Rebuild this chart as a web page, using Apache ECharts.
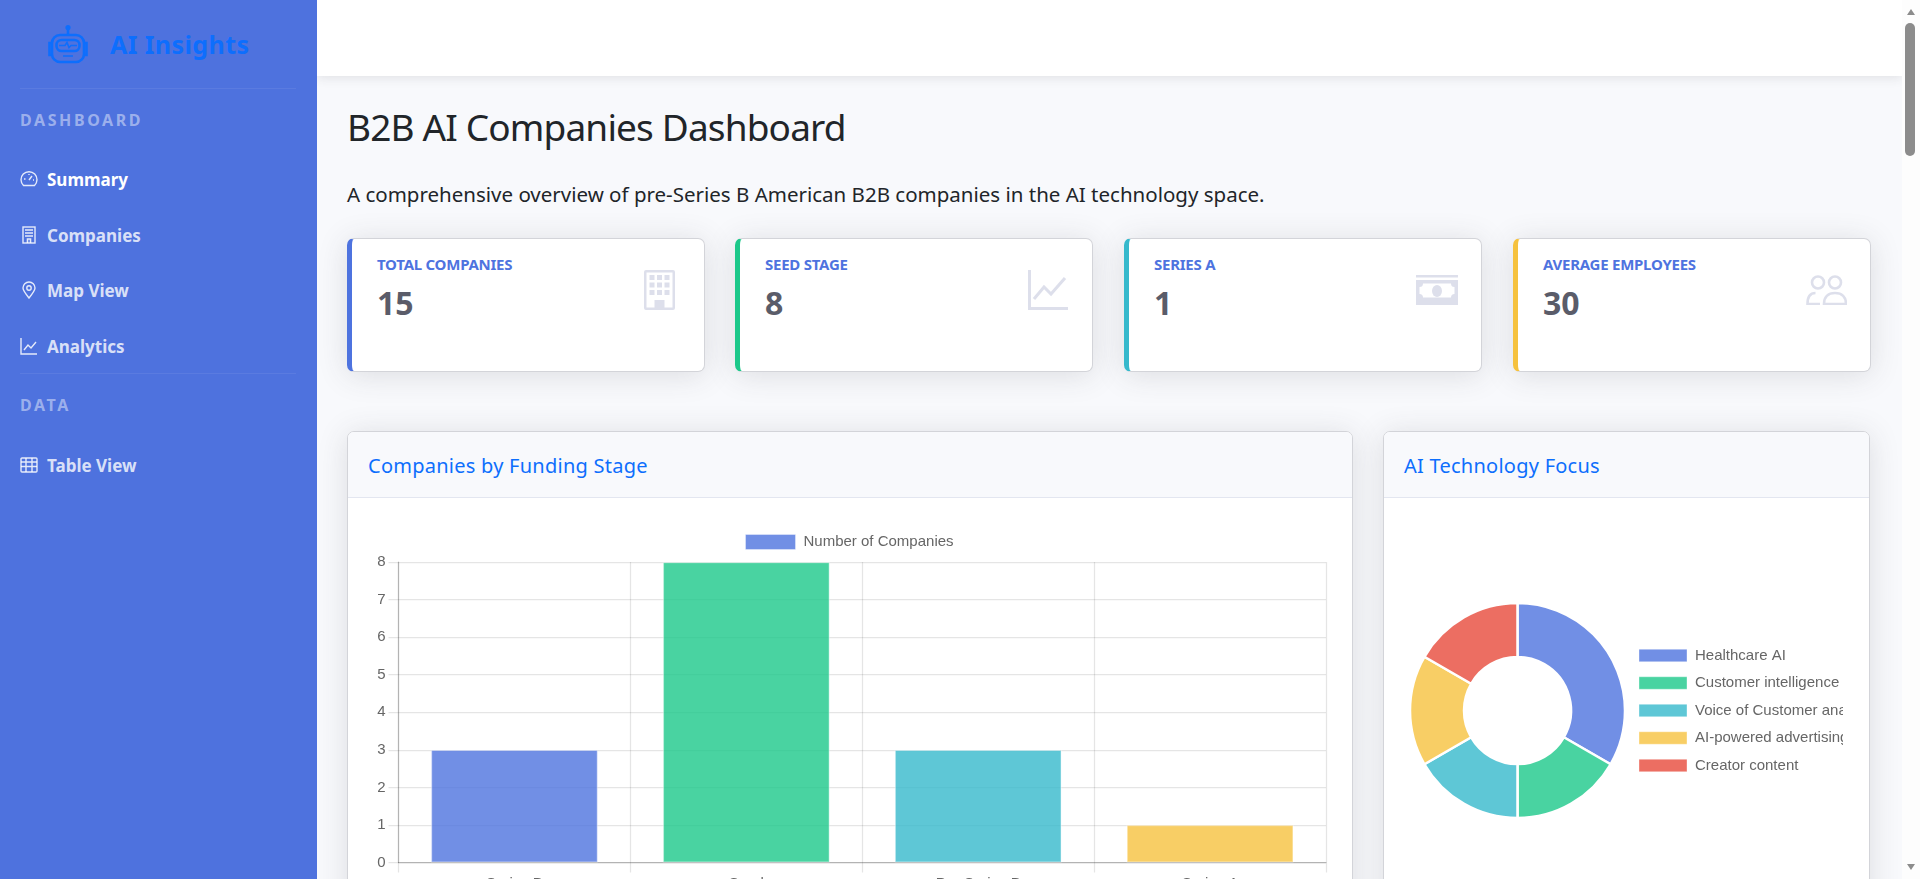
<!DOCTYPE html>
<html>
<head>
<meta charset="utf-8">
<title>B2B AI Companies Dashboard</title>
<script src="https://cdn.jsdelivr.net/npm/echarts@6/dist/echarts.min.js"></script>
<style>
  html, body { margin: 0; height: 100%; overflow: hidden; background: #f8f9fc; font-family: "Noto Sans", sans-serif; color: #212529; }
  .abs, .t { position: absolute; }
  .t { transform: translateY(-50%); white-space: nowrap; }
  #sidebar { position: absolute; left: 0; top: 0; width: 317px; height: 879px; background: #4e72de; }
  .divider { position: absolute; left: 20px; width: 276px; height: 1px; background: rgba(255,255,255,.07); }
  .section { left: 20px; font-size: 16px; font-weight: 700; letter-spacing: 2.6px; color: rgba(255,255,255,.45); }
  .nav { left: 47px; font-size: 17px; font-weight: 700; color: rgba(255,255,255,.8); }
  .nav.on { color: #fff; }
  .navicon { position: absolute; left: 20px; width: 18px; height: 18px; fill: none; stroke: rgba(255,255,255,.85); stroke-width: 1.4; }
  #topbar { position: absolute; left: 317px; top: 0; width: 1585px; height: 76px; background: #fff; box-shadow: 0 2px 10px rgba(58,59,69,.12); }
  .stat { position: absolute; top: 238px; height: 134px; width: 358px; box-sizing: border-box; background: #fff; border: 1px solid #d3d4d9; border-left-width: 5px; border-radius: 7px; box-shadow: 0 3px 30px rgba(58,59,69,.15); }
  .statlabel { font-size: 15px; font-weight: 700; letter-spacing: -.25px; color: #4e73df; }
  .statvalue { font-size: 32px; font-weight: 700; color: #5a5c69; }
  .staticon { position: absolute; fill: #dddfeb; }
  .panel { position: absolute; top: 431px; height: 600px; box-sizing: border-box; background: #fff; border: 1px solid #d3d4d9; border-radius: 7px; box-shadow: 0 3px 30px rgba(58,59,69,.15); overflow: hidden; }
  .panelhead { position: absolute; left: 0; top: 0; right: 0; height: 64.5px; background: #f8f9fc; border-bottom: 1px solid #e3e6f0; }
  .paneltitle { font-size: 20px; color: #0d6efd; letter-spacing: .25px; }
  #barChart { position: absolute; left: 368px; top: 520px; width: 970px; height: 400px; }
  #pieChart { position: absolute; left: 1404px; top: 520px; width: 439px; height: 400px; }
  #scroll { position: absolute; left: 1902px; top: 0; width: 18px; height: 879px; background: #fdfdfd; }
  #thumb { position: absolute; left: 3px; top: 23px; width: 10px; height: 133px; border-radius: 5px; background: #8c8c8c; }
</style>
</head>
<body>
<div id="topbar"></div>

<div id="sidebar">
  <svg class="abs" style="left:47px;top:24px" width="42" height="40" viewBox="0 0 42 40" fill="none" stroke="#0d6efd" stroke-width="2.6">
    <circle cx="21" cy="3.5" r="2.6" fill="#0d6efd" stroke="none"/>
    <path d="M21 5v6"/>
    <rect x="5" y="11" width="32" height="27" rx="8"/>
    <path d="M4.500 19h-2v12h2M37.500 19h2v12h-2"/>
    <rect x="9.500" y="16" width="23" height="11" rx="5"/>
    <path d="M12 21.500h6l2-3 2 5 2-2h6M16 32h10" stroke-width="1.600"/>
  </svg>
  <div class="t" style="left:110px;top:44px;font-size:25px;font-weight:700;color:#0d6efd;letter-spacing:.4px">AI Insights</div>
  <div class="divider" style="top:88px"></div>
  <div class="t section" style="top:120px">DASHBOARD</div>

  <svg class="navicon" style="top:170px" viewBox="0 0 18 18"><path d="M3.500 15.500a8 8 0 1 1 11 0z"/><path d="M9 10l3-4M4 9h1.500M13 10h1M9 4v1"/></svg>
  <div class="t nav on" style="top:178.500px">Summary</div>
  <svg class="navicon" style="top:226px" viewBox="0 0 18 18"><rect x="3" y="1" width="12" height="16"/><path d="M5 4h8M5 7h8M5 10h8M7.500 17v-4h3v4" stroke-width="1.600"/></svg>
  <div class="t nav" style="top:234.500px">Companies</div>
  <svg class="navicon" style="top:281px" viewBox="0 0 18 18"><path d="M9 17C5 12 3 9.500 3 7a6 6 0 0 1 12 0c0 2.500-2 5-6 10z"/><circle cx="9" cy="7" r="2.200"/></svg>
  <div class="t nav" style="top:289.500px">Map View</div>
  <svg class="navicon" style="top:337px" viewBox="0 0 18 18"><path d="M1 1v16h16M4 13l4-5 3 3 5-6"/></svg>
  <div class="t nav" style="top:345.500px">Analytics</div>
  <div class="divider" style="top:373px"></div>
  <div class="t section" style="top:405px">DATA</div>
  <svg class="navicon" style="top:456px" viewBox="0 0 18 18"><rect x="1" y="2" width="16" height="14" rx="1"/><path d="M1 6h16M1 10.500h16M6 2v14M12 2v14" /></svg>
  <div class="t nav" style="top:464.500px">Table View</div>
</div>

<div class="t" style="left:347px;top:126px;font-size:37px;letter-spacing:-.85px">B2B AI Companies Dashboard</div>
<div class="t" style="left:347px;top:193.500px;font-size:20.500px">A comprehensive overview of pre-Series B American B2B companies in the AI technology space.</div>

<div class="stat" style="left:347px;border-left-color:#4e73df"></div>
<div class="t statlabel" style="left:377px;top:264px">TOTAL COMPANIES</div>
<div class="t statvalue" style="left:377px;top:302px">15</div>
<svg class="staticon" style="left:644px;top:270px" width="31" height="40" viewBox="0 0 31 40"><path fill-rule="evenodd" d="M2 0h27a2 2 0 0 1 2 2v36a2 2 0 0 1-2 2H2a2 2 0 0 1-2-2V2a2 2 0 0 1 2-2zM2.500 2.500v35h26v-35z"/><path d="M5.500 5h5v5h-5zM13 5h5v5h-5zM20.500 5h5v5h-5zM5.500 12.500h5v5h-5zM13 12.500h5v5h-5zM20.500 12.500h5v5h-5zM5.500 20h5v5h-5zM13 20h5v5h-5zM20.500 20h5v5h-5zM10.500 30h10v8h-10z"/></svg>

<div class="stat" style="left:735px;border-left-color:#1cc88a"></div>
<div class="t statlabel" style="left:765px;top:264px">SEED STAGE</div>
<div class="t statvalue" style="left:765px;top:302px">8</div>
<svg class="staticon" style="left:1028px;top:270px;fill:none;stroke:#dddfeb;stroke-width:3" width="40" height="40" viewBox="0 0 40 40"><path d="M1.500 0v38.500H40M6 29l10-12 7 7 14-16"/></svg>

<div class="stat" style="left:1124px;border-left-color:#36b9cc"></div>
<div class="t statlabel" style="left:1154px;top:264px">SERIES A</div>
<div class="t statvalue" style="left:1154px;top:302px">1</div>
<svg class="staticon" style="left:1416px;top:275px" width="42" height="30" viewBox="0 0 42 30"><path fill-rule="evenodd" d="M0 0h42v2.500H0zM0 5h42v25H0zM7 8.500a3.500 3.500 0 0 1-3.500 3.500v7A3.500 3.500 0 0 1 7 22.500h28a3.500 3.500 0 0 1 3.500-3.500v-7A3.500 3.500 0 0 1 35 8.500z"/><ellipse cx="21" cy="16" rx="5" ry="6"/></svg>

<div class="stat" style="left:1513px;border-left-color:#f6c23e"></div>
<div class="t statlabel" style="left:1543px;top:264px">AVERAGE EMPLOYEES</div>
<div class="t statvalue" style="left:1543px;top:302px">30</div>
<svg class="staticon" style="left:1806px;top:275px;fill:none;stroke:#dddfeb;stroke-width:2.600" width="41" height="30" viewBox="0 0 41 30"><circle cx="12" cy="7.500" r="6"/><circle cx="29" cy="7.500" r="6"/><path d="M14 29H1.500c0-7 3-11 8-11M18 29c0-7 4-11 11-11s11 4 11 11z"/></svg>

<div class="panel" style="left:347px;width:1006px"><div class="panelhead"></div></div>
<div class="t paneltitle" style="left:368px;top:465px">Companies by Funding Stage</div>
<div id="barChart"></div>

<div class="panel" style="left:1383px;width:487px"><div class="panelhead"></div></div>
<div class="t paneltitle" style="left:1404px;top:465px">AI Technology Focus</div>
<div id="pieChart"></div>

<div id="scroll">
  <div id="thumb"></div>
  <svg class="abs" style="left:4px;top:8px" width="10" height="8"><path d="M5 1l4 6H1z" fill="#8c8c8c"/></svg>
  <svg class="abs" style="left:4px;top:863px" width="10" height="8"><path d="M5 7l4-6H1z" fill="#8c8c8c"/></svg>
</div>

<script>
const stageNames = ["Series B", "Seed", "Pre-Series B", "Series A"];
const stageCounts = [3, 8, 3, 1];
const yTicks = [0, 8, 1];
const focusNames = ["Healthcare AI", "Customer intelligence", "Voice of Customer analysis", "AI-powered advertising", "Creator content"];
const focusCounts = [2, 1, 1, 1, 1];
const fills = ["rgba(78,115,223,0.8)", "rgba(28,200,138,0.8)", "rgba(54,185,204,0.8)", "rgba(246,194,62,0.8)", "rgba(231,74,59,0.8)"];

const gridLine = "rgba(0,0,0,0.1)";
const axisLine = "rgba(0,0,0,0.22)";
const labelFont = { color: "#666", fontFamily: "Liberation Sans", fontSize: 15 };

const barChart = echarts.init(document.getElementById("barChart"));
barChart.setOption({
    animation: false,
    legend: {
        left: 372,
        top: 9,
        icon: "rect",
        itemWidth: 50,
        itemHeight: 15,
        itemStyle: { color: fills[0], borderColor: "rgba(255,255,255,0.35)", borderWidth: 1 },
        textStyle: { ...labelFont, padding: [0, 0, 0, 3] },
        data: ["Number of Companies"],
    },
    grid: { left: 30.5, top: 42, width: 927.5, height: 300.5 },
    xAxis: {
        type: "category",
        data: stageNames,
        axisLine: { lineStyle: { color: axisLine, width: 1.25 } },
        axisTick: { show: true, length: 10, lineStyle: { color: gridLine, width: 1.25 } },
        splitLine: { show: true, lineStyle: { color: gridLine, width: 1.25 } },
        axisLabel: { ...labelFont, margin: 14 },
    },
    yAxis: {
        type: "value",
        min: yTicks[0],
        max: yTicks[1],
        interval: yTicks[2],
        axisLine: { show: true, lineStyle: { color: axisLine, width: 1.25 } },
        axisTick: { show: true, length: 10, lineStyle: { color: gridLine, width: 1.25 } },
        splitLine: { lineStyle: { color: gridLine, width: 1.25 } },
        axisLabel: { ...labelFont, margin: 13 },
    },
    series: [{
        name: "Number of Companies",
        type: "bar",
        barWidth: "72%",
        itemStyle: { color: fills[0] },
        data: stageCounts.map((v, i) => ({
            value: v,
            itemStyle: { color: fills[i], borderColor: "rgba(255,255,255,0.35)", borderWidth: 1.25 },
        })),
    }],
});

const pieChart = echarts.init(document.getElementById("pieChart"));
pieChart.setOption({
    animation: false,
    legend: {
        orient: "vertical",
        left: 229.5,
        top: 123,
        icon: "rect",
        itemWidth: 48,
        itemHeight: 12.5,
        itemGap: 12.5,
        itemStyle: { borderColor: "rgba(255,255,255,0.35)", borderWidth: 1 },
        textStyle: { ...labelFont, padding: [0, 0, 0, 3] },
    },
    series: [{
        type: "pie",
        center: [113.5, 190.5],
        radius: [53.5, 107.5],
        startAngle: 90,
        label: { show: false },
        itemStyle: { borderColor: "#fff", borderWidth: 2.5 },
        data: focusNames.map((name, i) => ({ name, value: focusCounts[i], itemStyle: { color: fills[i] } })),
    }],
});
</script>
</body>
</html>
